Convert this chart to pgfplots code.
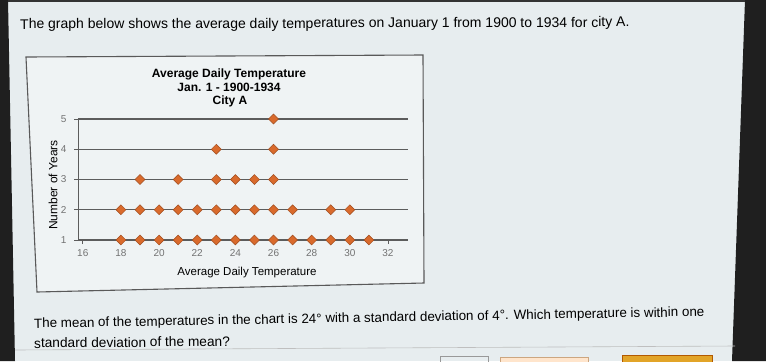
\documentclass[border=0pt]{standalone}
\usepackage{pgfplots}
\pgfplotsset{compat=1.18}
\usepackage{fontspec}
\setmainfont{Liberation Sans}
\definecolor{bgc}{HTML}{E7EDEF}
\definecolor{boxc}{HTML}{EFF3F4}
\definecolor{gridc}{HTML}{5C5C5C}
\definecolor{mk}{HTML}{D96A2C}
\definecolor{mkd}{HTML}{A04C1E}
\definecolor{tickc}{HTML}{727272}
\begin{document}
\begin{tikzpicture}
\begin{scope}[x=1bp,y=-1bp]
\useasboundingbox (0,0) rectangle (766,361);
\fill[bgc] (0,0) rectangle (766,361);
\fill[black!88] (0,0) -- (8,0) -- (15,361) -- (0,361) -- cycle;
\fill[black!88] (745,0) -- (766,0) -- (766,361) -- (732,361) -- cycle;
\fill[black!80] (8,0) rectangle (745,2);
% chart box
\filldraw[fill=boxc, draw=black!65, line width=1.1bp] (26,57) -- (423,55) -- (424,283) -- (37,292) -- cycle;
% buttons at bottom
\draw[black!25, line width=0.6bp] (15,350) -- (735,346);
\draw[black!40] (440,356) rectangle (488,362);
\filldraw[fill=orange!20, draw=orange!60!black!50] (500,357) rectangle (588,362);
\filldraw[fill={rgb,255:red,226;green,164;blue,40}, draw=orange!70!black] (622,355) rectangle (712,362);
% texts
\node[anchor=base west, inner sep=0, font=\fontsize{14bp}{16bp}\selectfont, rotate=0.2] at (20,29) {The graph below shows the average daily temperatures on January 1 from 1900 to 1934 for city A.};
\node[anchor=base west, inner sep=0, font=\fontsize{13.4bp}{16bp}\selectfont, rotate=1] at (34,328) {The mean of the temperatures in the chart is 24\textdegree{} with a standard deviation of 4\textdegree. Which temperature is within one};
\node[anchor=base west, inner sep=0, font=\fontsize{13.7bp}{16bp}\selectfont, rotate=0.5] at (34,348) {standard deviation of the mean?};
% chart titles
\node[anchor=base, inner sep=0, font=\bfseries\fontsize{12bp}{14bp}\selectfont] at (229,77.5) {Average Daily Temperature};
\node[anchor=base, inner sep=0, font=\bfseries\fontsize{12bp}{14bp}\selectfont] at (229,91) {Jan. 1 - 1900-1934};
\node[anchor=base, inner sep=0, font=\bfseries\fontsize{12bp}{14bp}\selectfont] at (230,104.5) {City A};
\node[anchor=base, inner sep=0, font=\fontsize{11.5bp}{14bp}\selectfont] at (247,275) {Average Daily Temperature};
\node[anchor=center, inner sep=0, rotate=90, font=\fontsize{12bp}{14bp}\selectfont] at (53,185) {Number of Years};
\end{scope}
\begin{axis}[
  at={(78bp,-240bp)}, anchor=south west,
  scale only axis, width=330bp, height=121bp,
  xmin=15.75, xmax=33.05, ymin=1, ymax=5,
  axis x line=bottom, axis y line=left,
  axis line style={gridc, line width=1bp, -},
  xtick={16,18,...,32}, ytick={1,2,3,4,5},
  tick align=outside, major tick length=4bp,
  tick style={gridc, line width=0.8bp},
  ymajorgrids, grid style={gridc, line width=1.2bp},
  ticklabel style={tickc, font=\fontsize{10bp}{11bp}\selectfont},
  /pgf/number format/assume math mode=true,
  xticklabel style={yshift=-2bp},
  yticklabel style={rotate=0, anchor=east, xshift=-4bp},
  clip=false,
]
\addplot[only marks, mark=square*, mark size=3.5bp,
  mark options={rotate=45, fill=mk, draw=mkd, line width=0.5bp}]
table {
x y
18 1
19 1
20 1
21 1
22 1
23 1
24 1
25 1
26 1
27 1
28 1
29 1
30 1
31 1
18 2
19 2
20 2
21 2
22 2
23 2
24 2
25 2
26 2
27 2
29 2
30 2
19 3
21 3
23 3
24 3
25 3
26 3
23 4
26 4
26 5
};
\end{axis}
\end{tikzpicture}
\end{document}
